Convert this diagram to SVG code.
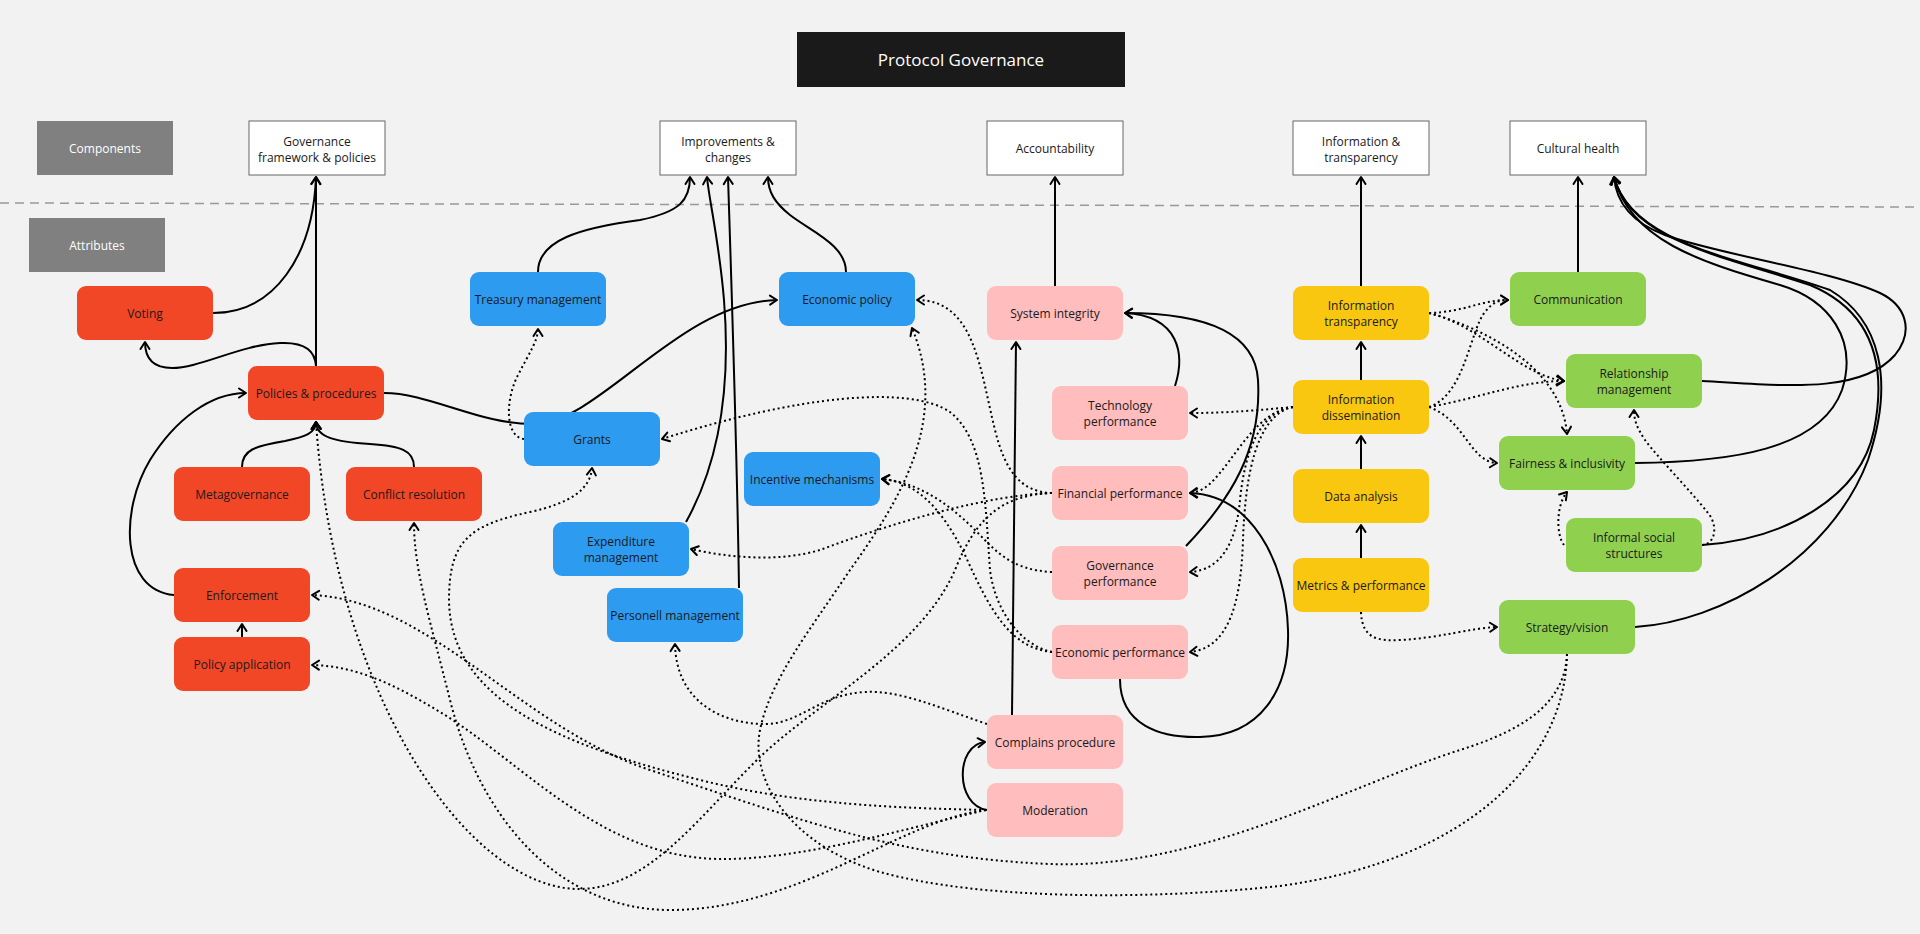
<svg xmlns="http://www.w3.org/2000/svg" width="1920" height="934" viewBox="0 0 1920 934">
<style>
text{font-family:"Open Sans","Noto Sans","Liberation Sans",sans-serif;font-size:12px;fill:#1a1a1a;text-anchor:middle;dominant-baseline:central}
.title{font-size:17px;fill:#fff}
.lbl{fill:#fff}
.comp{fill:#fff;stroke:#666;stroke-width:1}
.gray{fill:#808080}
.red{fill:#F24726}
.blue{fill:#2D9BF0}
.pink{fill:#FFBDBD}
.yel{fill:#FAC710}
.grn{fill:#8FD14F}
.c path{fill:none;stroke:#000;stroke-width:2;marker-end:url(#ah)}
.c path.d{stroke-dasharray:2 3}
</style>
<defs>
<marker id="ah" viewBox="-10 -7 12 14" refX="0" refY="0" markerWidth="12" markerHeight="14" markerUnits="userSpaceOnUse" orient="auto">
<path d="M-7,-4.5 L0,0 L-7,4.5" fill="none" stroke="#000" stroke-width="2" stroke-linecap="round" stroke-linejoin="round"/>
</marker>
</defs>
<rect x="0" y="0" width="1920" height="934" fill="#F2F2F2"/>
<line x1="0" y1="203" x2="1920" y2="207" stroke="#999" stroke-width="1.5" stroke-dasharray="9 6"/>

<g id="title"><rect x="797" y="32" width="328" height="55" fill="#1A1A1A"/><text class="title" x="961" y="59">Protocol Governance</text></g>
<g id="label-components"><rect class="gray" x="37" y="121" width="136" height="54"/><text class="lbl" x="105" y="148">Components</text></g>
<g id="label-attributes"><rect class="gray" x="29" y="218" width="136" height="54"/><text class="lbl" x="97" y="245">Attributes</text></g>

<g id="comp-governance"><rect class="comp" x="249" y="121" width="136" height="54"/><text x="317" y="141">Governance</text><text x="317" y="157">framework &amp; policies</text></g>
<g id="comp-improvements"><rect class="comp" x="660" y="121" width="136" height="54"/><text x="728" y="141">Improvements &amp;</text><text x="728" y="157">changes</text></g>
<g id="comp-accountability"><rect class="comp" x="987" y="121" width="136" height="54"/><text x="1055" y="148">Accountability</text></g>
<g id="comp-information"><rect class="comp" x="1293" y="121" width="136" height="54"/><text x="1361" y="141">Information &amp;</text><text x="1361" y="157">transparency</text></g>
<g id="comp-cultural"><rect class="comp" x="1510" y="121" width="136" height="54"/><text x="1578" y="148">Cultural health</text></g>

<g class="c" id="connectors">
<path d="M213,313 C275,313 313,255 316,177"/>
<path d="M316,366 L316,177"/>
<path d="M316,366 C315,348 300,342 280,343 C240,345 200,368 172,368 C153,368 145,358 145,342"/>
<path d="M242,467 C242,450 255,446 285,441 C305,437 316,433 316,422"/>
<path d="M414,467 C414,450 400,446 370,444 C335,442 316,437 316,422"/>
<path d="M174,595 C120,590 120,510 150,460 C175,420 210,393 246,393"/>
<path d="M242,637 L242,624"/>
<path d="M384,393 C430,393 480,425 535,424 C600,422 680,302 777,300"/>
<path d="M538,272 C538,240 580,228 640,220 C680,212 690,200 690,177"/>
<path d="M686,522 C715,470 732,400 724,300 C719,240 709,200 707,177"/>
<path d="M739,588 C737,450 732,300 728,177"/>
<path d="M846,272 C846,245 812,232 790,215 C775,203 768,192 768,177"/>
<path d="M1055,286 L1055,177"/>
<path d="M1012,715 L1016,342"/>
<path d="M1175,386 C1185,355 1180,316 1125,313"/>
<path d="M1186,546 C1230,500 1262,450 1258,380 C1255,330 1200,313 1125,313"/>
<path d="M1120,679 C1120,725 1160,738 1200,737 C1260,736 1290,690 1288,630 C1286,560 1250,495 1190,493"/>
<path d="M987,810 C955,805 955,745 985,742"/>
<path d="M1361,286 L1361,177"/>
<path d="M1361,380 L1361,342"/>
<path d="M1361,469 L1361,436"/>
<path d="M1361,558 L1361,525"/>
<path d="M1578,272 L1578,177"/>
<path d="M1702,381 C1780,385 1860,395 1895,355 C1915,330 1905,305 1880,293 C1830,270 1720,255 1665,235 C1630,222 1616,200 1614,177"/>
<path d="M1635,463 C1730,462 1820,450 1842,390 C1858,340 1830,300 1780,285 C1700,262 1630,240 1614,177"/>
<path d="M1702,545 C1780,540 1860,500 1874,430 C1888,360 1870,310 1810,285 C1720,255 1630,240 1614,177"/>
<path d="M1635,627 C1720,622 1830,560 1868,460 C1895,380 1880,320 1830,290 C1740,258 1632,245 1614,177"/>

<path class="d" d="M524,439 C505,437 505,400 518,375 C530,352 538,340 538,329"/>
<path class="d" d="M1052,493 C1020,492 1005,470 995,430 C980,370 975,300 917,300"/>
<path class="d" d="M1052,493 C990,495 900,520 820,550 C780,562 730,558 691,549"/>
<path class="d" d="M1052,493 C1000,495 975,520 955,570 C920,650 820,700 760,757 C700,815 650,888 580,889 C470,890 335,700 316,422"/>
<path class="d" d="M1052,652 C1020,645 995,610 990,570 C985,500 985,440 950,412 C910,385 800,395 662,439"/>
<path class="d" d="M1052,652 C1010,648 990,610 965,555 C940,505 915,482 882,479"/>
<path class="d" d="M1052,572 C1010,570 995,550 975,530 C945,500 915,482 882,479"/>
<path class="d" d="M987,724 C940,708 900,690 865,692 C820,694 800,724 765,724 C720,724 676,700 675,644"/>
<path class="d" d="M1293,407 C1260,410 1230,413 1190,413"/>
<path class="d" d="M1293,407 C1265,410 1245,440 1230,460 C1215,480 1205,492 1190,493"/>
<path class="d" d="M1293,407 C1260,412 1245,450 1240,500 C1236,545 1220,570 1190,572"/>
<path class="d" d="M1293,407 C1255,415 1245,480 1243,540 C1241,600 1230,648 1190,652"/>
<path class="d" d="M1429,313 C1465,312 1480,300 1508,300"/>
<path class="d" d="M1429,313 C1480,325 1520,375 1564,381"/>
<path class="d" d="M1429,313 C1490,330 1562,370 1567,434"/>
<path class="d" d="M1429,407 C1465,395 1470,330 1485,312 C1492,303 1498,300 1508,300"/>
<path class="d" d="M1429,407 C1480,398 1520,381 1564,381"/>
<path class="d" d="M1429,407 C1465,420 1470,462 1497,463"/>
<path class="d" d="M1564,545 C1556,535 1556,505 1567,492"/>
<path class="d" d="M1702,545 C1716,544 1718,525 1708,513 C1690,490 1660,460 1645,440 C1637,428 1634,420 1634,410"/>
<path class="d" d="M1361,612 C1362,640 1380,641 1400,640 C1440,638 1470,628 1497,627"/>
<path class="d" d="M1567,654 C1565,700 1530,728 1460,750 C1350,785 1200,870 1050,864 C900,858 800,820 650,770 C520,727 430,600 312,595"/>
<path class="d" d="M1567,654 C1565,760 1470,860 1280,886 C1150,900 980,900 880,872 C790,845 750,780 760,730 C770,680 810,630 850,570 C900,500 950,420 912,328"/>
<path class="d" d="M986,810 C900,808 800,805 700,780 C560,745 450,700 449,600 C449,540 470,525 530,512 C570,503 590,490 592,468"/>
<path class="d" d="M986,810 C900,820 800,910 670,910 C560,910 480,820 450,700 C430,620 414,570 414,523"/>
<path class="d" d="M986,810 C900,830 800,860 720,859 C600,858 520,760 440,712 C400,688 360,666 312,665"/>
</g>

<g id="node-voting"><rect class="red" x="77" y="286" width="136" height="54" rx="9"/><text x="145" y="313">Voting</text></g>
<g id="node-policies"><rect class="red" x="248" y="366" width="136" height="54" rx="9"/><text x="316" y="393">Policies &amp; procedures</text></g>
<g id="node-metagovernance"><rect class="red" x="174" y="467" width="136" height="54" rx="9"/><text x="242" y="494">Metagovernance</text></g>
<g id="node-conflict"><rect class="red" x="346" y="467" width="136" height="54" rx="9"/><text x="414" y="494">Conflict resolution</text></g>
<g id="node-enforcement"><rect class="red" x="174" y="568" width="136" height="54" rx="9"/><text x="242" y="595">Enforcement</text></g>
<g id="node-policyapp"><rect class="red" x="174" y="637" width="136" height="54" rx="9"/><text x="242" y="664">Policy application</text></g>

<g id="node-treasury"><rect class="blue" x="470" y="272" width="136" height="54" rx="9"/><text x="538" y="299">Treasury management</text></g>
<g id="node-grants"><rect class="blue" x="524" y="412" width="136" height="54" rx="9"/><text x="592" y="439">Grants</text></g>
<g id="node-economicpolicy"><rect class="blue" x="779" y="272" width="136" height="54" rx="9"/><text x="847" y="299">Economic policy</text></g>
<g id="node-incentive"><rect class="blue" x="744" y="452" width="136" height="54" rx="9"/><text x="812" y="479">Incentive mechanisms</text></g>
<g id="node-expenditure"><rect class="blue" x="553" y="522" width="136" height="54" rx="9"/><text x="621" y="541">Expenditure</text><text x="621" y="557">management</text></g>
<g id="node-personell"><rect class="blue" x="607" y="588" width="136" height="54" rx="9"/><text x="675" y="615">Personell management</text></g>

<g id="node-systemintegrity"><rect class="pink" x="987" y="286" width="136" height="54" rx="9"/><text x="1055" y="313">System integrity</text></g>
<g id="node-techperf"><rect class="pink" x="1052" y="386" width="136" height="54" rx="9"/><text x="1120" y="405">Technology</text><text x="1120" y="421">performance</text></g>
<g id="node-finperf"><rect class="pink" x="1052" y="466" width="136" height="54" rx="9"/><text x="1120" y="493">Financial performance</text></g>
<g id="node-govperf"><rect class="pink" x="1052" y="546" width="136" height="54" rx="9"/><text x="1120" y="565">Governance</text><text x="1120" y="581">performance</text></g>
<g id="node-econperf"><rect class="pink" x="1052" y="625" width="136" height="54" rx="9"/><text x="1120" y="652">Economic performance</text></g>
<g id="node-complains"><rect class="pink" x="987" y="715" width="136" height="54" rx="9"/><text x="1055" y="742">Complains procedure</text></g>
<g id="node-moderation"><rect class="pink" x="987" y="783" width="136" height="54" rx="9"/><text x="1055" y="810">Moderation</text></g>

<g id="node-infotransparency"><rect class="yel" x="1293" y="286" width="136" height="54" rx="9"/><text x="1361" y="305">Information</text><text x="1361" y="321">transparency</text></g>
<g id="node-infodissemination"><rect class="yel" x="1293" y="380" width="136" height="54" rx="9"/><text x="1361" y="399">Information</text><text x="1361" y="415">dissemination</text></g>
<g id="node-dataanalysis"><rect class="yel" x="1293" y="469" width="136" height="54" rx="9"/><text x="1361" y="496">Data analysis</text></g>
<g id="node-metrics"><rect class="yel" x="1293" y="558" width="136" height="54" rx="9"/><text x="1361" y="585">Metrics &amp; performance</text></g>

<g id="node-communication"><rect class="grn" x="1510" y="272" width="136" height="54" rx="9"/><text x="1578" y="299">Communication</text></g>
<g id="node-relationship"><rect class="grn" x="1566" y="354" width="136" height="54" rx="9"/><text x="1634" y="373">Relationship</text><text x="1634" y="389">management</text></g>
<g id="node-fairness"><rect class="grn" x="1499" y="436" width="136" height="54" rx="9"/><text x="1567" y="463">Fairness &amp; inclusivity</text></g>
<g id="node-informal"><rect class="grn" x="1566" y="518" width="136" height="54" rx="9"/><text x="1634" y="537">Informal social</text><text x="1634" y="553">structures</text></g>
<g id="node-strategy"><rect class="grn" x="1499" y="600" width="136" height="54" rx="9"/><text x="1567" y="627">Strategy/vision</text></g>
</svg>
